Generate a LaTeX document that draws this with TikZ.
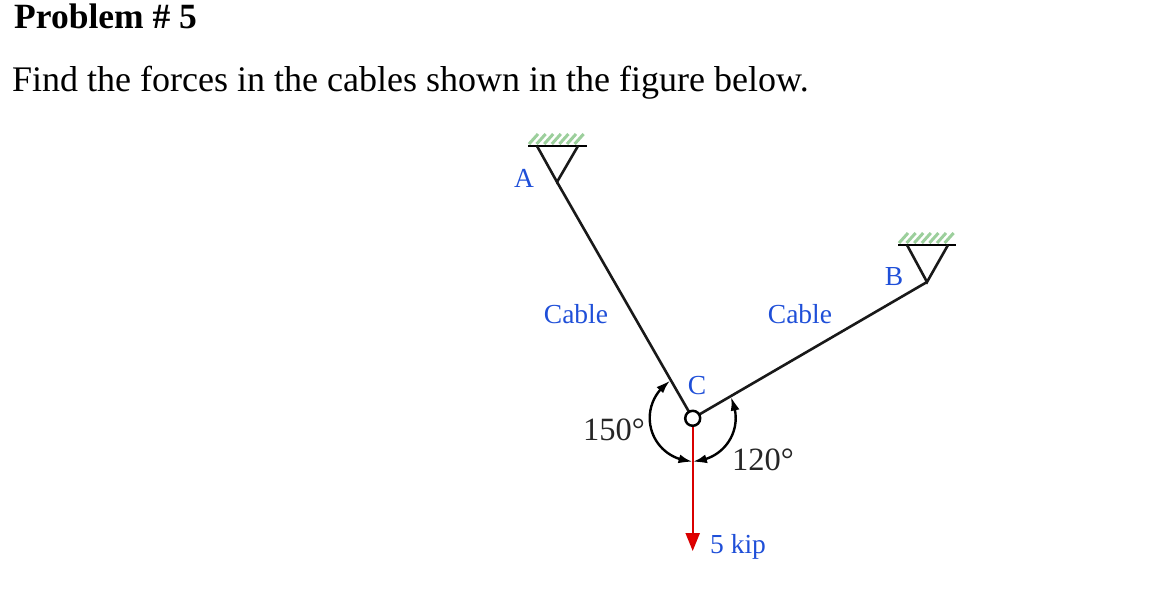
\documentclass[tikz,border=0pt]{standalone}
\usepackage{fontspec}
\setmainfont{Liberation Serif}
\usetikzlibrary{arrows.meta,bending}
\definecolor{lblblue}{HTML}{1F4FD8}
\definecolor{hatchgreen}{HTML}{9CCF9C}
\tikzset{
  x=1pt,y=-1pt,
  title/.style={anchor=base west,inner sep=0pt,font=\fontsize{35.5}{40}\selectfont\bfseries},
  body/.style={anchor=base west,inner sep=0pt,font=\fontsize{36}{42}\selectfont},
  lbl/.style={anchor=base,inner sep=0pt,text=lblblue,font=\fontsize{27.5}{32}\selectfont},
  ang/.style={anchor=base,inner sep=0pt,text=black!85,font=\fontsize{32.5}{38}\selectfont},
  cable/.style={draw=black!90,line width=2.6pt},
  wall/.style={draw=black,line width=2.8pt},
  hatch/.style={draw=hatchgreen,line width=3pt},
  pin/.style={circle,draw=black,fill=white,line width=2.5pt,minimum size=15pt,inner sep=0pt},
  dim/.style={draw=black,line width=2.4pt,{Latex[length=14pt,width=9pt,bend]}-{Latex[length=14pt,width=9pt,bend]}},
  force/.style={draw=red!85!black,line width=2.2pt,-{Triangle[length=18pt,width=14pt,fill=red!90!black]}}
}
\begin{document}
\begin{tikzpicture}
\useasboundingbox (0,0) rectangle (1174,589);
\node[title] (t1) at (14,28) {Problem \# 5};
\node[body] (t2) at (12,91) {Find the forces in the cables shown in the figure below.};
% supports
\coordinate (A) at (557,182);
\coordinate (B) at (927,282);
\coordinate (Al) at (537,146);
\coordinate (Ar) at (578,146);
\coordinate (Bl) at (907,245);
\coordinate (Br) at (948,245);
\coordinate (C) at (692.7,418.3);
\coordinate (W1a) at (528,146);
\coordinate (W1b) at (587,146);
\coordinate (W2a) at (898,245);
\coordinate (W2b) at (956,245);
\foreach \i in {0,...,6} {
  \draw[hatch] (W1a) ++({\i*7.6+1},-2) -- ++(9,-10);
  \draw[hatch] (W2a) ++({\i*7.6+1},-2) -- ++(9,-10);
}
\draw[wall] (W1a) -- (W1b);
\draw[wall] (W2a) -- (W2b);
\draw[cable] (Al) -- (A) -- (Ar);
\draw[cable] (Bl) -- (B) -- (Br);
\draw[cable] (A) -- (C);
\draw[cable] (B) -- (C);
% force
\coordinate (F) at (692.7,551);
\draw[force] (C) -- (F);
% angle arcs
\coordinate (Bot) at (692.7,461);
\draw[dim] (Bot) arc[start angle=90,end angle=239,radius=43];
\draw[dim] (Bot) arc[start angle=90,end angle=-29,radius=43];
\node[pin] (pinC) at (C) {};
% labels
\node[lbl] (la) at (524,187) {A};
\node[lbl] (lb) at (894,285) {B};
\node[lbl] (lc) at (697,394) {C};
\node[lbl] (lc1) at (576,323) {Cable};
\node[lbl] (lc2) at (800,323) {Cable};
\node[ang] (a1) at (614,440) {150°};
\node[ang] (a2) at (763,470) {120°};
\node[lbl,anchor=base west] (f) at (710,553) {5 kip};
\end{tikzpicture}
\end{document}
